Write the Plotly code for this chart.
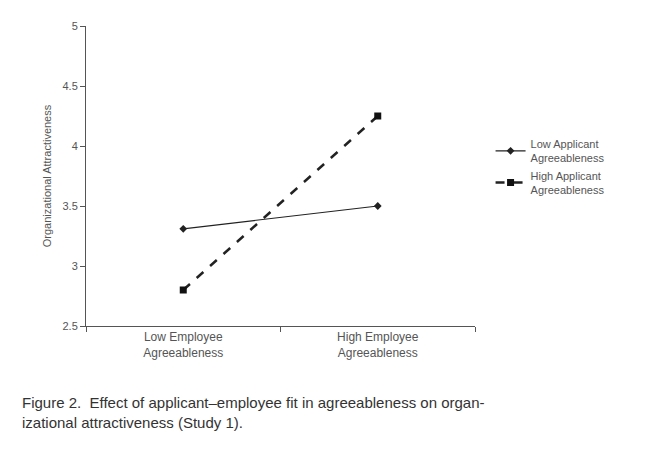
import plotly.graph_objects as go

categories = ["Low Employee<br>Agreeableness", "High Employee<br>Agreeableness"]
low_applicant = [3.31, 3.50]
high_applicant = [2.80, 4.25]
series_names = ["Low Applicant<br>Agreeableness", "High Applicant<br>Agreeableness"]
y_ticks = [2.5, 3, 3.5, 4, 4.5, 5]
y_tick_labels = ["2.5", "3", "3.5", "4", "4.5", "5"]

x = list(range(len(categories)))
fig = go.Figure()
fig.add_trace(go.Scatter(x=x, y=low_applicant, name=series_names[0], mode="lines+markers",
                         line=dict(color="#222", width=1.2), marker=dict(symbol="diamond", size=6, color="#222")))
fig.add_trace(go.Scatter(x=x, y=high_applicant, name=series_names[1], mode="lines+markers",
                         line=dict(color="#222", width=2.5, dash="dash"), marker=dict(symbol="square", size=7, color="#111")))

fig.update_layout(
    width=662, height=454, plot_bgcolor="white", paper_bgcolor="white",
    margin=dict(l=78, r=195, t=18, b=136),
    font=dict(family="Liberation Sans, Arial", color="#555", size=11),
    legend=dict(x=1.04, y=0.53, xanchor="left", yanchor="middle", font=dict(size=11, color="#555"),
                tracegroupgap=18),
    annotations=[dict(text="Figure 2.  Effect of applicant–employee fit in agreeableness on organ-<br>izational attractiveness (Study 1).",
                      xref="paper", yref="paper", x=-0.17, y=-0.22, xanchor="left", yanchor="top", align="left",
                      showarrow=False, font=dict(size=15, color="#333", family="Liberation Sans, Arial"))],
)
fig.update_xaxes(range=[-0.5, 1.5], tickvals=x, ticktext=categories, ticks="", showline=True, linecolor="#555",
                 linewidth=1, showgrid=False, zeroline=False, tickfont=dict(size=12, color="#555"), automargin=False,
                 minor=dict(tickvals=[-0.5, 0.5, 1.5], ticks="outside", ticklen=5, tickcolor="#555"))
fig.update_yaxes(range=[2.5, 5], tickvals=y_ticks, ticktext=y_tick_labels, ticks="outside", ticklen=5, tickcolor="#555",
                 showline=True, linecolor="#555", showgrid=False, zeroline=False, automargin=False,
                 title=dict(text="Organizational Attractiveness", font=dict(size=11, color="#555"), standoff=8),
                 tickfont=dict(size=11, color="#555"))
fig.write_html("out.html")
